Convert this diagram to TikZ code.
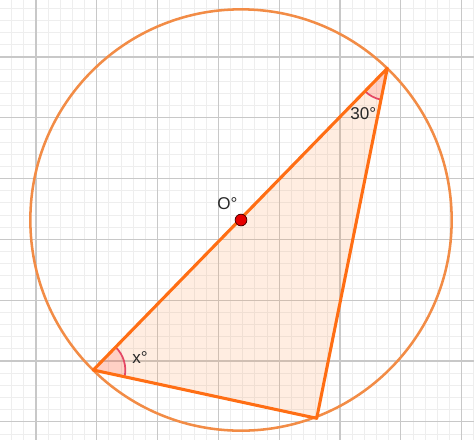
\documentclass[tikz,border=0pt]{standalone}
\usepackage{fontspec}
\setmainfont{Liberation Sans}
\usetikzlibrary{angles}
\definecolor{gridminor}{RGB}{238,238,238}
\definecolor{gridmajor}{RGB}{200,200,200}
\definecolor{edgec}{RGB}{255,110,20}
\definecolor{circc}{RGB}{242,140,70}
\definecolor{tfill}{RGB}{255,140,60}
\definecolor{angc}{RGB}{228,70,100}
\definecolor{ptred}{RGB}{230,0,0}
\definecolor{txtc}{RGB}{40,40,40}
\begin{document}
\begin{tikzpicture}[x=0.75pt,y=-0.75pt,
  minorline/.style={draw=gridminor,line width=0.7pt},
  majorline/.style={draw=gridmajor,line width=0.8pt},
  edgeline/.style={draw=edgec,line width=2.3pt,line join=round,line cap=round},
  circline/.style={draw=circc,line width=1.9pt},
  trifill/.style={fill=tfill,fill opacity=0.15},
  angmark/.style={draw=angc,line width=1.3pt,fill=red,fill opacity=0.12,angle radius=24pt},
  lbl/.style={text=txtc,font=\fontsize{12.8}{15}\selectfont,inner sep=0pt,anchor=base west},
  ptdot/.style={circle,fill=ptred,draw=black!70!red,line width=0.6pt,minimum size=8.8pt,inner sep=0pt}]
\useasboundingbox (0,0) rectangle (474,440);
\fill[white] (0,0) rectangle (474,440);
\begin{scope}
  \clip (0,0) rectangle (474,440);
  \foreach \i in {-3,...,36} { \draw[minorline] ({36+\i*12.16},0) -- ({36+\i*12.16},440); }
  \foreach \j in {-5,...,33} { \draw[minorline] (0,{57+\j*12.16}) -- (474,{57+\j*12.16}); }
  \foreach \i in {-1,...,7} { \draw[majorline] ({36+\i*60.8},0) -- ({36+\i*60.8},440); }
  \foreach \j in {-1,...,6} { \draw[majorline] (0,{57+\j*60.8}) -- (474,{57+\j*60.8}); }
\end{scope}
\coordinate (A) at (93.3,370);
\coordinate (B) at (387.3,68.3);
\coordinate (C) at (316.7,418.3);
\coordinate (O) at (241,220);
\path[trifill] (A) -- (B) -- (C) -- cycle;
\pic[angmark] {angle=C--A--B};
\pic[angmark] {angle=A--B--C};
\draw[circline] (O) circle[radius=158pt];
\draw[edgeline] (A) -- (B) -- (C) -- cycle;
\node[ptdot] (Odot) at (O) {};
\node[lbl] (l30) at (350,119) {30°};
\node[lbl] (lx) at (132,363) {x°};
\node[lbl] (lO) at (217,209) {O°};
\end{tikzpicture}
\end{document}
